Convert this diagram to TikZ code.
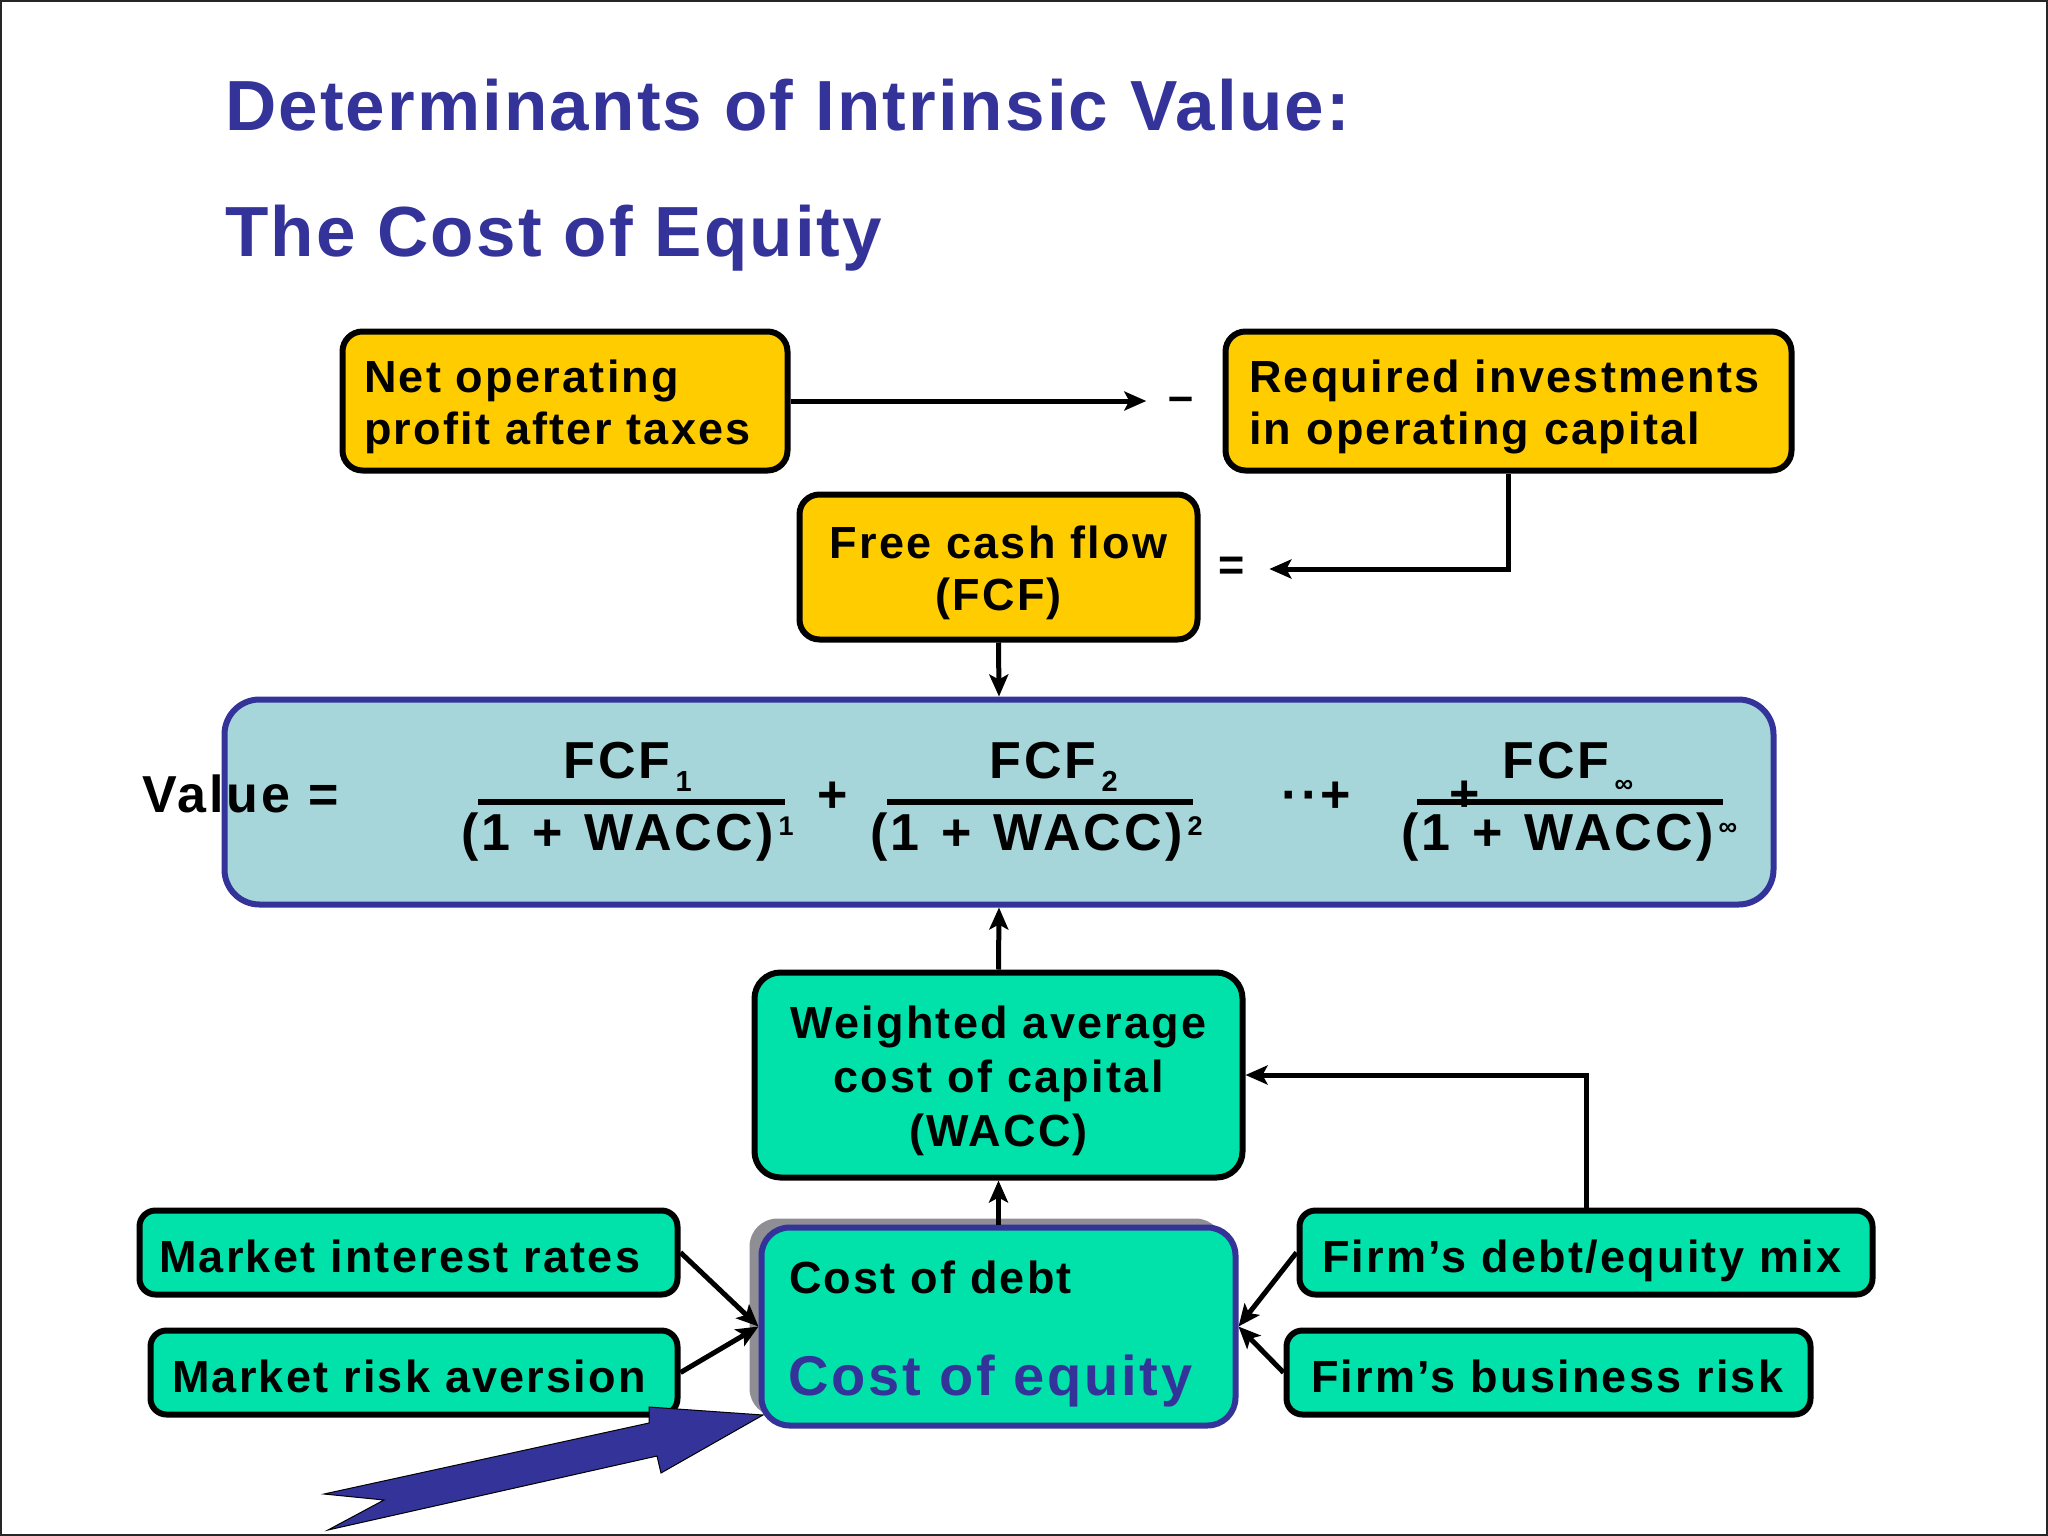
\documentclass[tikz,border=0pt]{standalone}
\usepackage{fontspec}
\setmainfont{Liberation Sans}[LetterSpace=5]
\newfontfamily\titlefont{Liberation Sans}[LetterSpace=3]
\newfontfamily\fmlfont{Liberation Sans}[LetterSpace=6]
\usetikzlibrary{arrows.meta,shadows}
\definecolor{navy}{RGB}{51,51,153}
\definecolor{gold}{RGB}{255,204,0}
\definecolor{mint}{RGB}{0,226,170}
\definecolor{paleteal}{RGB}{166,214,217}
\definecolor{shgray}{RGB}{142,142,148}
\newcommand\myfsub[1]{\hspace{5pt}\raisebox{-13pt}{\fontsize{29}{29}\selectfont #1}}
\newcommand\myfsup[1]{\hspace{5pt}\raisebox{15pt}{\fontsize{27}{27}\selectfont #1}}
\newcommand\myinfsub{\hspace{5pt}\raisebox{-14pt}{\fontsize{26}{26}\selectfont ∞}}
\newcommand\myinfsup{\hspace{5pt}\raisebox{15pt}{\fontsize{26}{26}\selectfont ∞}}
\newcommand\mydenom{(1\hspace{22pt}+\hspace{22pt}WACC)}
\begin{document}
\begin{tikzpicture}[x=1pt,y=-1pt,
  boxtext/.style={font=\bfseries\fontsize{45}{52}\selectfont},
  ybox/.style={draw=black, line width=6pt, fill=gold, rounded corners=20pt, boxtext},
  gbox/.style={draw=black, line width=6pt, fill=mint, rounded corners=16pt, boxtext},
  leftline/.style={align=left, text height=45pt, text depth=6pt, minimum height=84pt},
  titletext/.style={anchor=base west, inner sep=0pt, text=navy, font=\titlefont\bfseries\fontsize{71}{80}\selectfont},
  fml/.style={anchor=base west, inner sep=0pt, font=\fmlfont\bfseries\fontsize{52}{58}\selectfont},
  sym/.style={inner sep=0pt, boxtext},
  fracline/.style={line width=6pt, black},
  conn/.style={line width=5pt, -{Stealth[length=22pt,width=19pt,inset=5pt]}}]
\useasboundingbox (0,0) rectangle (2048,1536);
\fill[white] (0,0) rectangle (2048,1536);

% titles
\node[titletext] (title1) at (225,131) {Determinants of Intrinsic Value:};
\node[titletext] (title2) at (225,256) {The Cost of Equity};

% yellow boxes
\node[ybox, minimum width=445pt, minimum height=139pt, inner xsep=21.5pt, text width=402pt,
      align=left, text height=40pt, text depth=58pt] (nopat) at (565,401)
      {\mbox{Net operating}\\\mbox{profit after taxes}};
\node[ybox, minimum width=566pt, minimum height=139pt, inner xsep=23.5pt, text width=519pt,
      align=left, text height=40pt, text depth=58pt] (req) at (1508.5,401)
      {\mbox{Required investments}\\\mbox{in operating capital}};
\node[ybox, minimum width=398pt, minimum height=145pt, inner xsep=10pt, text width=378pt, align=center,
      text height=40pt, text depth=58pt] (fcf) at (998.5,567)
      {Free cash flow\\(FCF)};
\node[sym] (minus) at (1181,404) {–};
\node[sym] (eq) at (1232,569) {=};

% value box
\node[draw=navy, line width=6pt, fill=paleteal, rounded corners=35pt,
      minimum width=1549pt, minimum height=205pt] (valbox) at (999,802) {};
\node[fml] (vlbl) at (142,812) {Value =};
\draw[fracline] (478,802) -- (785,802);
\draw[fracline] (887,802) -- (1193,802);
\draw[fracline] (1417,802) -- (1723,802);
\node[fml] (n1) at (563,778) {FCF\myfsub{1}};
\node[fml] (d1) at (461,850) {\mydenom\myfsup{1}};
\node[fml, anchor=base] (p1) at (833,812) {+};
\node[fml] (n2) at (989,778) {FCF\myfsub{2}};
\node[fml] (d2) at (870,850) {\mydenom\myfsup{2}};
\node[fml, anchor=base] (dots) at (1300,812) {··};
\node[fml, anchor=base] (p2) at (1336,812) {+};
\node[fml, anchor=base] (p3) at (1465,811) {+};
\node[fml] (n3) at (1502,778) {FCF\myinfsub};
\node[fml] (d3) at (1401,850) {\mydenom\myinfsup};

% WACC
\node[gbox, rounded corners=26pt, minimum width=488pt, minimum height=205pt, inner xsep=10pt, text width=468pt, align=center,
      font=\bfseries\fontsize{45}{54}\selectfont, text height=40pt, text depth=114pt] (wacc) at (998.5,1075)
      {Weighted average\\cost of capital\\(WACC)};

% cost box
\node[draw=navy, line width=6pt, fill=mint, rounded corners=28pt,
      minimum width=474pt, minimum height=198pt,
      drop shadow={shadow xshift=-12pt, shadow yshift=9pt, fill=shgray, opacity=1}] (cost) at (998.5,1326.5) {};
\node[anchor=base west, inner sep=0pt, boxtext] (costdebt) at (789,1293) {Cost of debt};
\node[anchor=base west, inner sep=0pt, text=navy, font=\bfseries\fontsize{56}{60}\selectfont] (costeq) at (788,1395) {Cost of equity};

% side boxes
\node[gbox, leftline, minimum width=538pt, inner xsep=19.5pt, text width=499pt] (mir) at (408.5,1252.5) {\mbox{Market interest rates}};
\node[gbox, leftline, minimum width=527pt, inner xsep=21.5pt, text width=484pt] (mra) at (414,1372.5) {\mbox{Market risk aversion}};
\node[gbox, leftline, minimum width=573pt, inner xsep=22.5pt, text width=528pt] (dem) at (1586,1252.5) {\mbox{Firm’s debt/equity mix}};
\node[gbox, leftline, minimum width=524pt, inner xsep=24.5pt, text width=475pt] (fbr) at (1548.5,1372.5) {\mbox{Firm’s business risk}};

% connectors
\draw[conn, shorten >=22pt] (nopat.east) -- (nopat.east -| minus.west);
\draw[conn, shorten >=24pt] (req.south) |- (eq.east);
\draw[conn] (fcf.south) -- (valbox.north);
\draw[conn] (wacc.north) -- (valbox.south);
\draw[conn] (cost.north) -- (wacc.south);
\draw[conn] (dem.north) |- (wacc.east);
\draw[conn] (mir.east) -- (cost.west);
\draw[conn] (mra.east) -- (cost.west);
\draw[conn] (dem.west) -- (cost.east);
\draw[conn] (fbr.west) -- (cost.east);

% big blue arrow
\draw[fill=navy, draw=black, line width=1pt, line join=miter]
  (763,1415) -- (649,1407) -- (649,1423) -- (324,1494) -- (384,1500)
  -- (328,1530) -- (657,1456) -- (661,1473) -- cycle;

% frame
\draw[line width=2.5pt, black!85] (1,1) rectangle (2047,1535);
\end{tikzpicture}
\end{document}
